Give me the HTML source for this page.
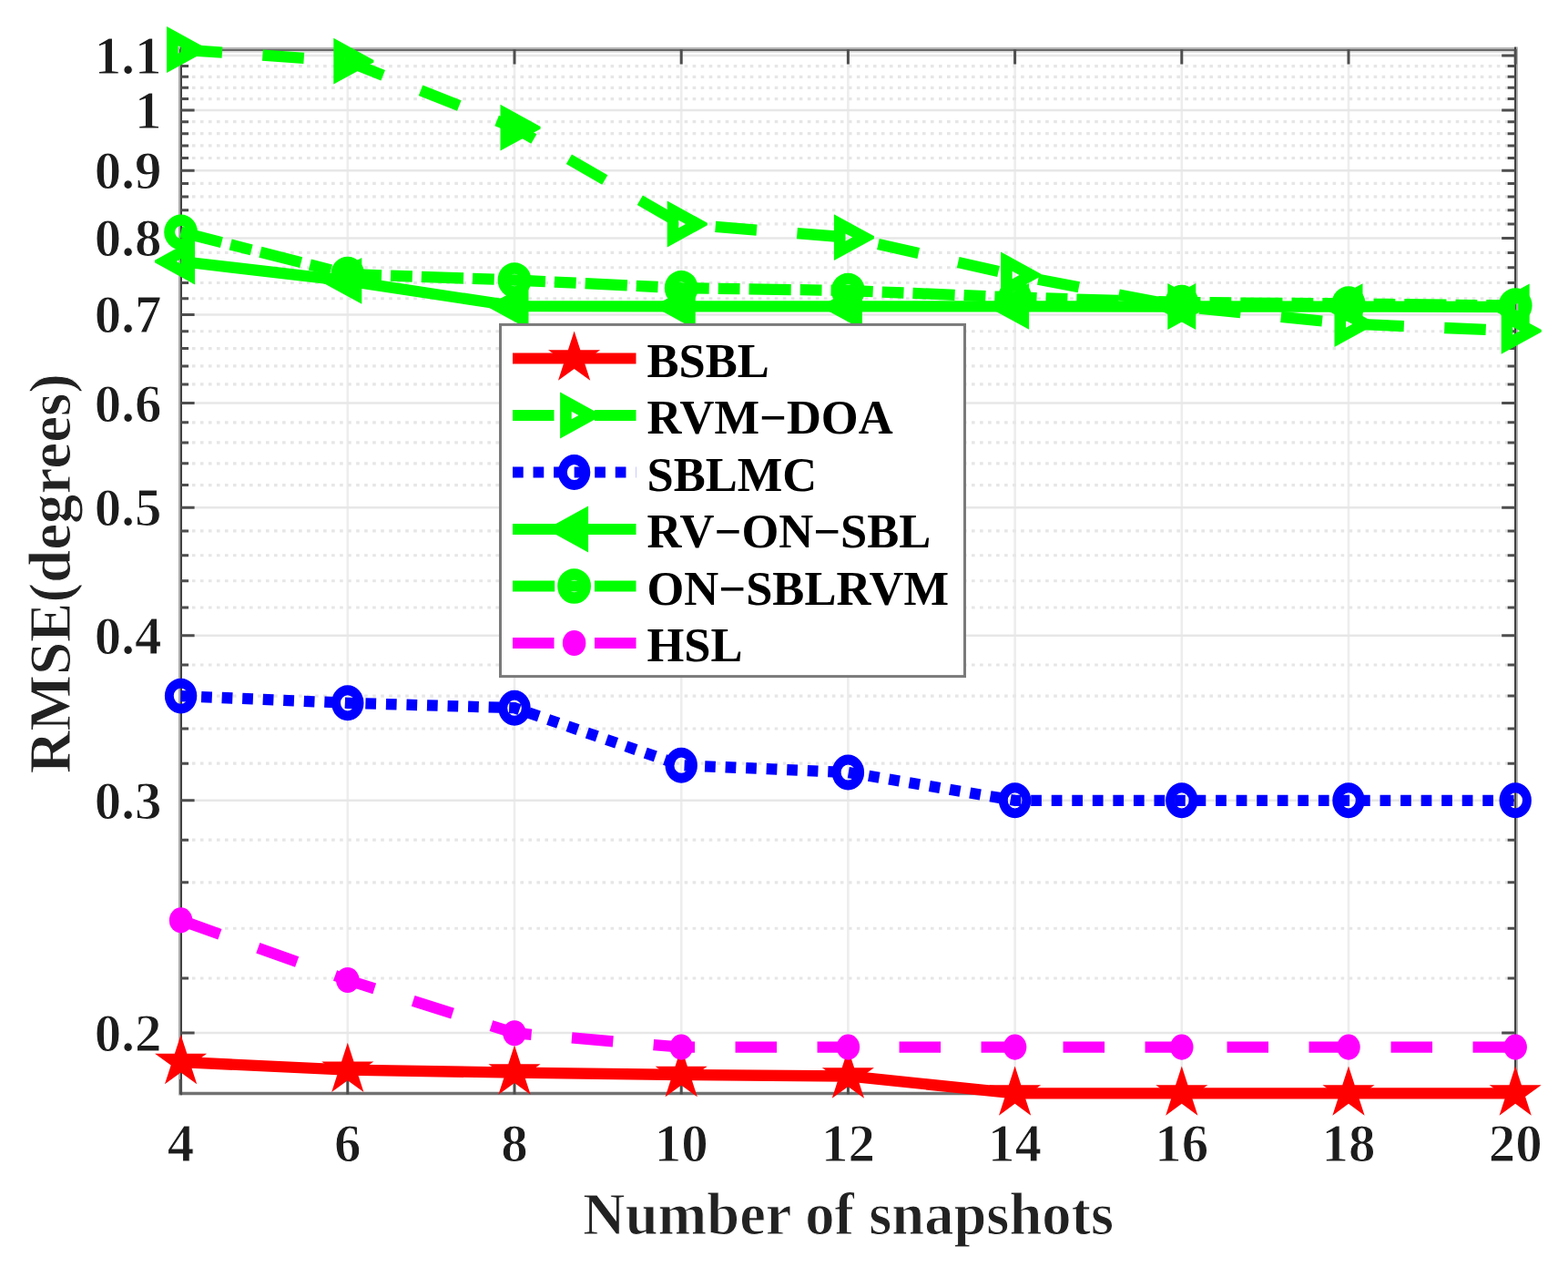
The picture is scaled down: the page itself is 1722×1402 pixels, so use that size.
<!DOCTYPE html>
<html><head><meta charset="utf-8"><title>RMSE vs snapshots</title>
<style>html,body{margin:0;padding:0;background:#fff;}svg{display:block;}</style></head>
<body><svg width="1722" height="1402" viewBox="0 0 1722 1402"><rect x="0" y="0" width="1722" height="1402" fill="#fff"/>
<path d="M198.60 54.4V1200.4M381.80 54.4V1200.4M565.00 54.4V1200.4M748.20 54.4V1200.4M931.40 54.4V1200.4M1114.60 54.4V1200.4M1297.80 54.4V1200.4M1481.00 54.4V1200.4M1664.20 54.4V1200.4" stroke="#ededed" stroke-width="2.6" fill="none"/>
<path d="M198.6 1133.98H1664.2M198.6 878.78H1664.2M198.6 697.71H1664.2M198.6 557.27H1664.2M198.6 442.51H1664.2M198.6 345.49H1664.2M198.6 261.45H1664.2M198.6 187.31H1664.2M198.6 121.00H1664.2M198.6 61.01H1664.2" stroke="#e7e7e7" stroke-width="2.4" fill="none"/>
<path d="M198.6 1073.99H1664.2M198.6 1019.23H1664.2M198.6 968.85H1664.2M198.6 922.20H1664.2M198.6 838.16H1664.2M198.6 800.00H1664.2M198.6 764.03H1664.2M198.6 730.00H1664.2M198.6 667.00H1664.2M198.6 637.73H1664.2M198.6 609.75H1664.2M198.6 582.96H1664.2M198.6 532.58H1664.2M198.6 508.83H1664.2M198.6 485.94H1664.2M198.6 463.85H1664.2M198.6 421.88H1664.2M198.6 401.89H1664.2M198.6 382.53H1664.2M198.6 363.74H1664.2M198.6 327.76H1664.2M198.6 310.52H1664.2M198.6 293.73H1664.2M198.6 277.38H1664.2M198.6 245.91H1664.2M198.6 230.74H1664.2M198.6 215.93H1664.2M198.6 201.46H1664.2M198.6 173.48H1664.2M198.6 159.94H1664.2M198.6 146.69H1664.2M198.6 133.72H1664.2M198.6 108.54H1664.2M198.6 96.31H1664.2M198.6 84.33H1664.2M198.6 72.56H1664.2" stroke="#e6e6e6" stroke-width="3.2" stroke-dasharray="3.6 5.412" stroke-dashoffset="-3.3" fill="none"/>
<path d="M196.29999999999998 53.1H1667.0" stroke="#b4b4b4" stroke-width="2" fill="none"/>
<path d="M196.29999999999998 56.9H1667.0" stroke="#dadada" stroke-width="1.6" fill="none"/>
<path d="M196.29999999999998 55H1667.0" stroke="#686868" stroke-width="2" fill="none"/>
<path d="M196.29999999999998 1200.5H1667.0" stroke="#727272" stroke-width="3.4" fill="none"/>
<path d="M197.0 51.4V1202.2" stroke="#adadad" stroke-width="2" fill="none"/>
<path d="M199.0 51.4V1202.2" stroke="#404040" stroke-width="2" fill="none"/>
<path d="M1666.0 51.4V1202.2" stroke="#b0b0b0" stroke-width="2" fill="none"/>
<path d="M1664.1000000000001 51.4V1202.2" stroke="#3a3a3a" stroke-width="2" fill="none"/>
<path d="M198.6 1133.98h15M1664.2 1133.98h-15M198.6 878.78h15M1664.2 878.78h-15M198.6 697.71h15M1664.2 697.71h-15M198.6 557.27h15M1664.2 557.27h-15M198.6 442.51h15M1664.2 442.51h-15M198.6 345.49h15M1664.2 345.49h-15M198.6 261.45h15M1664.2 261.45h-15M198.6 187.31h15M1664.2 187.31h-15M198.6 121.00h15M1664.2 121.00h-15M198.6 61.01h15M1664.2 61.01h-15M198.6 1073.99h8.5M1664.2 1073.99h-8.5M198.6 1019.23h8.5M1664.2 1019.23h-8.5M198.6 968.85h8.5M1664.2 968.85h-8.5M198.6 922.20h8.5M1664.2 922.20h-8.5M198.6 838.16h8.5M1664.2 838.16h-8.5M198.6 800.00h8.5M1664.2 800.00h-8.5M198.6 764.03h8.5M1664.2 764.03h-8.5M198.6 730.00h8.5M1664.2 730.00h-8.5M198.6 667.00h8.5M1664.2 667.00h-8.5M198.6 637.73h8.5M1664.2 637.73h-8.5M198.6 609.75h8.5M1664.2 609.75h-8.5M198.6 582.96h8.5M1664.2 582.96h-8.5M198.6 532.58h8.5M1664.2 532.58h-8.5M198.6 508.83h8.5M1664.2 508.83h-8.5M198.6 485.94h8.5M1664.2 485.94h-8.5M198.6 463.85h8.5M1664.2 463.85h-8.5M198.6 421.88h8.5M1664.2 421.88h-8.5M198.6 401.89h8.5M1664.2 401.89h-8.5M198.6 382.53h8.5M1664.2 382.53h-8.5M198.6 363.74h8.5M1664.2 363.74h-8.5M198.6 327.76h8.5M1664.2 327.76h-8.5M198.6 310.52h8.5M1664.2 310.52h-8.5M198.6 293.73h8.5M1664.2 293.73h-8.5M198.6 277.38h8.5M1664.2 277.38h-8.5M198.6 245.91h8.5M1664.2 245.91h-8.5M198.6 230.74h8.5M1664.2 230.74h-8.5M198.6 215.93h8.5M1664.2 215.93h-8.5M198.6 201.46h8.5M1664.2 201.46h-8.5M198.6 173.48h8.5M1664.2 173.48h-8.5M198.6 159.94h8.5M1664.2 159.94h-8.5M198.6 146.69h8.5M1664.2 146.69h-8.5M198.6 133.72h8.5M1664.2 133.72h-8.5M198.6 108.54h8.5M1664.2 108.54h-8.5M198.6 96.31h8.5M1664.2 96.31h-8.5M198.6 84.33h8.5M1664.2 84.33h-8.5M198.6 72.56h8.5M1664.2 72.56h-8.5M198.60 1201.4v-16.5M198.60 53.9v16.5M381.80 1201.4v-16.5M381.80 53.9v16.5M565.00 1201.4v-16.5M565.00 53.9v16.5M748.20 1201.4v-16.5M748.20 53.9v16.5M931.40 1201.4v-16.5M931.40 53.9v16.5M1114.60 1201.4v-16.5M1114.60 53.9v16.5M1297.80 1201.4v-16.5M1297.80 53.9v16.5M1481.00 1201.4v-16.5M1481.00 53.9v16.5M1664.20 1201.4v-16.5M1664.20 53.9v16.5" stroke="#4e4e4e" stroke-width="3" fill="none"/>
<text x="198.60" y="1275" font-family="Liberation Serif, Times New Roman, serif" font-weight="bold" font-size="59" fill="#1c1c1c" stroke="#fff" stroke-width="1" text-anchor="middle">4</text>
<text x="381.80" y="1275" font-family="Liberation Serif, Times New Roman, serif" font-weight="bold" font-size="59" fill="#1c1c1c" stroke="#fff" stroke-width="1" text-anchor="middle">6</text>
<text x="565.00" y="1275" font-family="Liberation Serif, Times New Roman, serif" font-weight="bold" font-size="59" fill="#1c1c1c" stroke="#fff" stroke-width="1" text-anchor="middle">8</text>
<text x="748.20" y="1275" font-family="Liberation Serif, Times New Roman, serif" font-weight="bold" font-size="59" fill="#1c1c1c" stroke="#fff" stroke-width="1" text-anchor="middle">10</text>
<text x="931.40" y="1275" font-family="Liberation Serif, Times New Roman, serif" font-weight="bold" font-size="59" fill="#1c1c1c" stroke="#fff" stroke-width="1" text-anchor="middle">12</text>
<text x="1114.60" y="1275" font-family="Liberation Serif, Times New Roman, serif" font-weight="bold" font-size="59" fill="#1c1c1c" stroke="#fff" stroke-width="1" text-anchor="middle">14</text>
<text x="1297.80" y="1275" font-family="Liberation Serif, Times New Roman, serif" font-weight="bold" font-size="59" fill="#1c1c1c" stroke="#fff" stroke-width="1" text-anchor="middle">16</text>
<text x="1481.00" y="1275" font-family="Liberation Serif, Times New Roman, serif" font-weight="bold" font-size="59" fill="#1c1c1c" stroke="#fff" stroke-width="1" text-anchor="middle">18</text>
<text x="1664.20" y="1275" font-family="Liberation Serif, Times New Roman, serif" font-weight="bold" font-size="59" fill="#1c1c1c" stroke="#fff" stroke-width="1" text-anchor="middle">20</text>
<text x="177.5" y="1153.98" font-family="Liberation Serif, Times New Roman, serif" font-weight="bold" font-size="59" fill="#1c1c1c" stroke="#fff" stroke-width="1" text-anchor="end">0.2</text>
<text x="177.5" y="898.78" font-family="Liberation Serif, Times New Roman, serif" font-weight="bold" font-size="59" fill="#1c1c1c" stroke="#fff" stroke-width="1" text-anchor="end">0.3</text>
<text x="177.5" y="717.71" font-family="Liberation Serif, Times New Roman, serif" font-weight="bold" font-size="59" fill="#1c1c1c" stroke="#fff" stroke-width="1" text-anchor="end">0.4</text>
<text x="177.5" y="577.27" font-family="Liberation Serif, Times New Roman, serif" font-weight="bold" font-size="59" fill="#1c1c1c" stroke="#fff" stroke-width="1" text-anchor="end">0.5</text>
<text x="177.5" y="462.51" font-family="Liberation Serif, Times New Roman, serif" font-weight="bold" font-size="59" fill="#1c1c1c" stroke="#fff" stroke-width="1" text-anchor="end">0.6</text>
<text x="177.5" y="365.49" font-family="Liberation Serif, Times New Roman, serif" font-weight="bold" font-size="59" fill="#1c1c1c" stroke="#fff" stroke-width="1" text-anchor="end">0.7</text>
<text x="177.5" y="281.45" font-family="Liberation Serif, Times New Roman, serif" font-weight="bold" font-size="59" fill="#1c1c1c" stroke="#fff" stroke-width="1" text-anchor="end">0.8</text>
<text x="177.5" y="207.31" font-family="Liberation Serif, Times New Roman, serif" font-weight="bold" font-size="59" fill="#1c1c1c" stroke="#fff" stroke-width="1" text-anchor="end">0.9</text>
<text x="177.5" y="141.00" font-family="Liberation Serif, Times New Roman, serif" font-weight="bold" font-size="59" fill="#1c1c1c" stroke="#fff" stroke-width="1" text-anchor="end">1</text>
<text x="177.5" y="81.01" font-family="Liberation Serif, Times New Roman, serif" font-weight="bold" font-size="59" fill="#1c1c1c" stroke="#fff" stroke-width="1" text-anchor="end">1.1</text>
<text x="931.6" y="1355" font-family="Liberation Serif, Times New Roman, serif" font-weight="bold" font-size="64.5" fill="#222" stroke="#fff" stroke-width="1" text-anchor="middle">Number of snapshots</text>
<text transform="translate(77 629.7) rotate(-90)" x="0" y="0" font-family="Liberation Serif, Times New Roman, serif" font-weight="bold" font-size="65" fill="#222" stroke="#fff" stroke-width="1" text-anchor="middle">RMSE(degrees)</text>
<polyline points="198.60,1166.00 381.80,1174.70 565.00,1177.60 748.20,1180.00 931.40,1181.50 1114.60,1200.40 1297.80,1200.40 1481.00,1200.40 1664.20,1200.40" fill="none" stroke="#f00" stroke-width="12.3" stroke-linejoin="miter"/>
<polygon points="198.60,1136.00 205.34,1156.73 227.13,1156.73 209.50,1169.54 216.23,1190.27 198.60,1177.46 180.97,1190.27 187.70,1169.54 170.07,1156.73 191.86,1156.73" fill="#f00"/>
<polygon points="381.80,1144.70 388.54,1165.43 410.33,1165.43 392.70,1178.24 399.43,1198.97 381.80,1186.16 364.17,1198.97 370.90,1178.24 353.27,1165.43 375.06,1165.43" fill="#f00"/>
<polygon points="565.00,1147.60 571.74,1168.33 593.53,1168.33 575.90,1181.14 582.63,1201.87 565.00,1189.06 547.37,1201.87 554.10,1181.14 536.47,1168.33 558.26,1168.33" fill="#f00"/>
<polygon points="748.20,1150.00 754.94,1170.73 776.73,1170.73 759.10,1183.54 765.83,1204.27 748.20,1191.46 730.57,1204.27 737.30,1183.54 719.67,1170.73 741.46,1170.73" fill="#f00"/>
<polygon points="931.40,1151.50 938.14,1172.23 959.93,1172.23 942.30,1185.04 949.03,1205.77 931.40,1192.96 913.77,1205.77 920.50,1185.04 902.87,1172.23 924.66,1172.23" fill="#f00"/>
<polygon points="1114.60,1170.40 1121.34,1191.13 1143.13,1191.13 1125.50,1203.94 1132.23,1224.67 1114.60,1211.86 1096.97,1224.67 1103.70,1203.94 1086.07,1191.13 1107.86,1191.13" fill="#f00"/>
<polygon points="1297.80,1170.40 1304.54,1191.13 1326.33,1191.13 1308.70,1203.94 1315.43,1224.67 1297.80,1211.86 1280.17,1224.67 1286.90,1203.94 1269.27,1191.13 1291.06,1191.13" fill="#f00"/>
<polygon points="1481.00,1170.40 1487.74,1191.13 1509.53,1191.13 1491.90,1203.94 1498.63,1224.67 1481.00,1211.86 1463.37,1224.67 1470.10,1203.94 1452.47,1191.13 1474.26,1191.13" fill="#f00"/>
<polygon points="1664.20,1170.40 1670.94,1191.13 1692.73,1191.13 1675.10,1203.94 1681.83,1224.67 1664.20,1211.86 1646.57,1224.67 1653.30,1203.94 1635.67,1191.13 1657.46,1191.13" fill="#f00"/>
<polyline points="198.60,54.50 381.80,67.20 565.00,140.20 748.20,246.00 931.40,260.60 1114.60,302.00 1297.80,336.50 1481.00,355.50 1664.20,363.30" fill="none" stroke="#00ff00" stroke-width="12.3" stroke-linejoin="miter" stroke-dasharray="45.5 44.5"/>
<path d="M183.10 29.10L227.20 53.20L227.20 55.80L183.10 79.90ZM195.70 50.30L203.40 54.50L195.70 58.70Z" fill="#0f0" fill-rule="evenodd"/>
<path d="M366.30 41.80L410.40 65.90L410.40 68.50L366.30 92.60ZM378.90 63.00L386.60 67.20L378.90 71.40Z" fill="#0f0" fill-rule="evenodd"/>
<path d="M549.50 114.80L593.60 138.90L593.60 141.50L549.50 165.60ZM562.10 136.00L569.80 140.20L562.10 144.40Z" fill="#0f0" fill-rule="evenodd"/>
<path d="M732.70 220.60L776.80 244.70L776.80 247.30L732.70 271.40ZM745.30 241.80L753.00 246.00L745.30 250.20Z" fill="#0f0" fill-rule="evenodd"/>
<path d="M915.90 235.20L960.00 259.30L960.00 261.90L915.90 286.00ZM928.50 256.40L936.20 260.60L928.50 264.80Z" fill="#0f0" fill-rule="evenodd"/>
<path d="M1099.10 276.60L1143.20 300.70L1143.20 303.30L1099.10 327.40ZM1111.70 297.80L1119.40 302.00L1111.70 306.20Z" fill="#0f0" fill-rule="evenodd"/>
<path d="M1282.30 311.10L1326.40 335.20L1326.40 337.80L1282.30 361.90ZM1294.90 332.30L1302.60 336.50L1294.90 340.70Z" fill="#0f0" fill-rule="evenodd"/>
<path d="M1465.50 330.10L1509.60 354.20L1509.60 356.80L1465.50 380.90ZM1478.10 351.30L1485.80 355.50L1478.10 359.70Z" fill="#0f0" fill-rule="evenodd"/>
<path d="M1648.70 337.90L1692.80 362.00L1692.80 364.60L1648.70 388.70ZM1661.30 359.10L1669.00 363.30L1661.30 367.50Z" fill="#0f0" fill-rule="evenodd"/>
<polyline points="198.60,764.10 381.80,771.80 565.00,777.20 748.20,840.20 931.40,848.00 1114.60,878.80 1297.80,878.80 1481.00,878.80 1664.20,878.80" fill="none" stroke="#00f" stroke-width="12.3" stroke-linejoin="miter" stroke-dasharray="11.7 10.85"/>
<circle transform="translate(198.60 764.10) scale(1 1.1)" r="12.75" fill="none" stroke="#00f" stroke-width="9.9"/>
<circle transform="translate(381.80 771.80) scale(1 1.1)" r="12.75" fill="none" stroke="#00f" stroke-width="9.9"/>
<circle transform="translate(565.00 777.20) scale(1 1.1)" r="12.75" fill="none" stroke="#00f" stroke-width="9.9"/>
<circle transform="translate(748.20 840.20) scale(1 1.1)" r="12.75" fill="none" stroke="#00f" stroke-width="9.9"/>
<circle transform="translate(931.40 848.00) scale(1 1.1)" r="12.75" fill="none" stroke="#00f" stroke-width="9.9"/>
<circle transform="translate(1114.60 878.80) scale(1 1.1)" r="12.75" fill="none" stroke="#00f" stroke-width="9.9"/>
<circle transform="translate(1297.80 878.80) scale(1 1.1)" r="12.75" fill="none" stroke="#00f" stroke-width="9.9"/>
<circle transform="translate(1481.00 878.80) scale(1 1.1)" r="12.75" fill="none" stroke="#00f" stroke-width="9.9"/>
<circle transform="translate(1664.20 878.80) scale(1 1.1)" r="12.75" fill="none" stroke="#00f" stroke-width="9.9"/>
<polyline points="198.60,287.00 381.80,308.40 565.00,336.20 748.20,336.30 931.40,336.40 1114.60,336.40 1297.80,336.50 1481.00,336.60 1664.20,337.00" fill="none" stroke="#00ff00" stroke-width="12.3" stroke-linejoin="miter"/>
<path d="M214.10 261.60L170.00 285.70L170.00 288.30L214.10 312.40ZM201.50 282.80L193.80 287.00L201.50 291.20Z" fill="#0f0" fill-rule="evenodd"/>
<path d="M397.30 283.00L353.20 307.10L353.20 309.70L397.30 333.80ZM384.70 304.20L377.00 308.40L384.70 312.60Z" fill="#0f0" fill-rule="evenodd"/>
<path d="M580.50 310.80L536.40 334.90L536.40 337.50L580.50 361.60ZM567.90 332.00L560.20 336.20L567.90 340.40Z" fill="#0f0" fill-rule="evenodd"/>
<path d="M763.70 310.90L719.60 335.00L719.60 337.60L763.70 361.70ZM751.10 332.10L743.40 336.30L751.10 340.50Z" fill="#0f0" fill-rule="evenodd"/>
<path d="M946.90 311.00L902.80 335.10L902.80 337.70L946.90 361.80ZM934.30 332.20L926.60 336.40L934.30 340.60Z" fill="#0f0" fill-rule="evenodd"/>
<path d="M1130.10 311.00L1086.00 335.10L1086.00 337.70L1130.10 361.80ZM1117.50 332.20L1109.80 336.40L1117.50 340.60Z" fill="#0f0" fill-rule="evenodd"/>
<path d="M1313.30 311.10L1269.20 335.20L1269.20 337.80L1313.30 361.90ZM1300.70 332.30L1293.00 336.50L1300.70 340.70Z" fill="#0f0" fill-rule="evenodd"/>
<path d="M1496.50 311.20L1452.40 335.30L1452.40 337.90L1496.50 362.00ZM1483.90 332.40L1476.20 336.60L1483.90 340.80Z" fill="#0f0" fill-rule="evenodd"/>
<path d="M1679.70 311.60L1635.60 335.70L1635.60 338.30L1679.70 362.40ZM1667.10 332.80L1659.40 337.00L1667.10 341.20Z" fill="#0f0" fill-rule="evenodd"/>
<polyline points="198.60,254.80 381.80,301.00 565.00,307.50 748.20,316.20 931.40,319.00 1114.60,326.50 1297.80,332.00 1481.00,333.50 1664.20,335.50" fill="none" stroke="#00ff00" stroke-width="12.3" stroke-linejoin="miter" stroke-dasharray="46.2 10 23.8 10"/>
<circle transform="translate(198.60 254.80) scale(1 1.05)" r="12.45" fill="none" stroke="#00ff00" stroke-width="11.9"/>
<circle transform="translate(381.80 301.00) scale(1 1.05)" r="12.45" fill="none" stroke="#00ff00" stroke-width="11.9"/>
<circle transform="translate(565.00 307.50) scale(1 1.05)" r="12.45" fill="none" stroke="#00ff00" stroke-width="11.9"/>
<circle transform="translate(748.20 316.20) scale(1 1.05)" r="12.45" fill="none" stroke="#00ff00" stroke-width="11.9"/>
<circle transform="translate(931.40 319.00) scale(1 1.05)" r="12.45" fill="none" stroke="#00ff00" stroke-width="11.9"/>
<circle transform="translate(1114.60 326.50) scale(1 1.05)" r="12.45" fill="none" stroke="#00ff00" stroke-width="11.9"/>
<circle transform="translate(1297.80 332.00) scale(1 1.05)" r="12.45" fill="none" stroke="#00ff00" stroke-width="11.9"/>
<circle transform="translate(1481.00 333.50) scale(1 1.05)" r="12.45" fill="none" stroke="#00ff00" stroke-width="11.9"/>
<circle transform="translate(1664.20 335.50) scale(1 1.05)" r="12.45" fill="none" stroke="#00ff00" stroke-width="11.9"/>
<polyline points="198.60,1010.40 381.80,1076.00 565.00,1134.20 748.20,1149.60 931.40,1149.60 1114.60,1149.60 1297.80,1149.60 1481.00,1149.60 1664.20,1149.60" fill="none" stroke="#f0f" stroke-width="12.3" stroke-linejoin="miter" stroke-dasharray="45.5 44.5"/>
<ellipse cx="198.60" cy="1010.40" rx="12.75" ry="14.05" fill="#f0f"/>
<ellipse cx="381.80" cy="1076.00" rx="12.75" ry="14.05" fill="#f0f"/>
<ellipse cx="565.00" cy="1134.20" rx="12.75" ry="14.05" fill="#f0f"/>
<ellipse cx="748.20" cy="1149.60" rx="12.75" ry="14.05" fill="#f0f"/>
<ellipse cx="931.40" cy="1149.60" rx="12.75" ry="14.05" fill="#f0f"/>
<ellipse cx="1114.60" cy="1149.60" rx="12.75" ry="14.05" fill="#f0f"/>
<ellipse cx="1297.80" cy="1149.60" rx="12.75" ry="14.05" fill="#f0f"/>
<ellipse cx="1481.00" cy="1149.60" rx="12.75" ry="14.05" fill="#f0f"/>
<ellipse cx="1664.20" cy="1149.60" rx="12.75" ry="14.05" fill="#f0f"/>
<rect x="549.5" y="356.4" width="510.0" height="386.20000000000005" fill="#fff" stroke="#7a7a7a" stroke-width="3"/>
<line x1="563" y1="393.5" x2="698.5" y2="393.5" stroke="#f00" stroke-width="11.8"/>
<polygon points="630.60,363.50 637.34,384.23 659.13,384.23 641.50,397.04 648.23,417.77 630.60,404.96 612.97,417.77 619.70,397.04 602.07,384.23 623.86,384.23" fill="#f00"/>
<line x1="563" y1="456" x2="698.5" y2="456" stroke="#00ff00" stroke-width="11.8" stroke-dasharray="45.5 44.5"/>
<path d="M615.10 430.60L659.20 454.70L659.20 457.30L615.10 481.40ZM627.70 451.80L635.40 456.00L627.70 460.20Z" fill="#0f0" fill-rule="evenodd"/>
<line x1="563" y1="518.5" x2="698.5" y2="518.5" stroke="#00f" stroke-width="11.8" stroke-dasharray="11.7 10.85"/>
<circle transform="translate(630.60 518.50) scale(1 1.1)" r="12.75" fill="none" stroke="#00f" stroke-width="9.9"/>
<line x1="563" y1="581" x2="698.5" y2="581" stroke="#00ff00" stroke-width="11.8"/>
<path d="M646.10 555.60L602.00 579.70L602.00 582.30L646.10 606.40ZM633.50 576.80L625.80 581.00L633.50 585.20Z" fill="#0f0" fill-rule="evenodd"/>
<line x1="563" y1="643.5" x2="698.5" y2="643.5" stroke="#00ff00" stroke-width="11.8" stroke-dasharray="46.2 10 23.8 10"/>
<circle transform="translate(630.60 643.50) scale(1 1.05)" r="12.45" fill="none" stroke="#00ff00" stroke-width="11.9"/>
<line x1="563" y1="706" x2="698.5" y2="706" stroke="#f0f" stroke-width="11.8" stroke-dasharray="45.5 44.5"/>
<ellipse cx="630.60" cy="706.00" rx="12.75" ry="14.05" fill="#f0f"/>
<text x="710.5" y="413.5" font-family="Liberation Serif, Times New Roman, serif" font-weight="bold" font-size="52.5" fill="#000">BSBL</text>
<text x="710.5" y="476.0" font-family="Liberation Serif, Times New Roman, serif" font-weight="bold" font-size="52.5" fill="#000">RVM−DOA</text>
<text x="710.5" y="538.5" font-family="Liberation Serif, Times New Roman, serif" font-weight="bold" font-size="52.5" fill="#000">SBLMC</text>
<text x="710.5" y="601.0" font-family="Liberation Serif, Times New Roman, serif" font-weight="bold" font-size="52.5" fill="#000">RV−ON−SBL</text>
<text x="710.5" y="663.5" font-family="Liberation Serif, Times New Roman, serif" font-weight="bold" font-size="52.5" fill="#000">ON−SBLRVM</text>
<text x="710.5" y="726.0" font-family="Liberation Serif, Times New Roman, serif" font-weight="bold" font-size="52.5" fill="#000">HSL</text></svg></body></html>
